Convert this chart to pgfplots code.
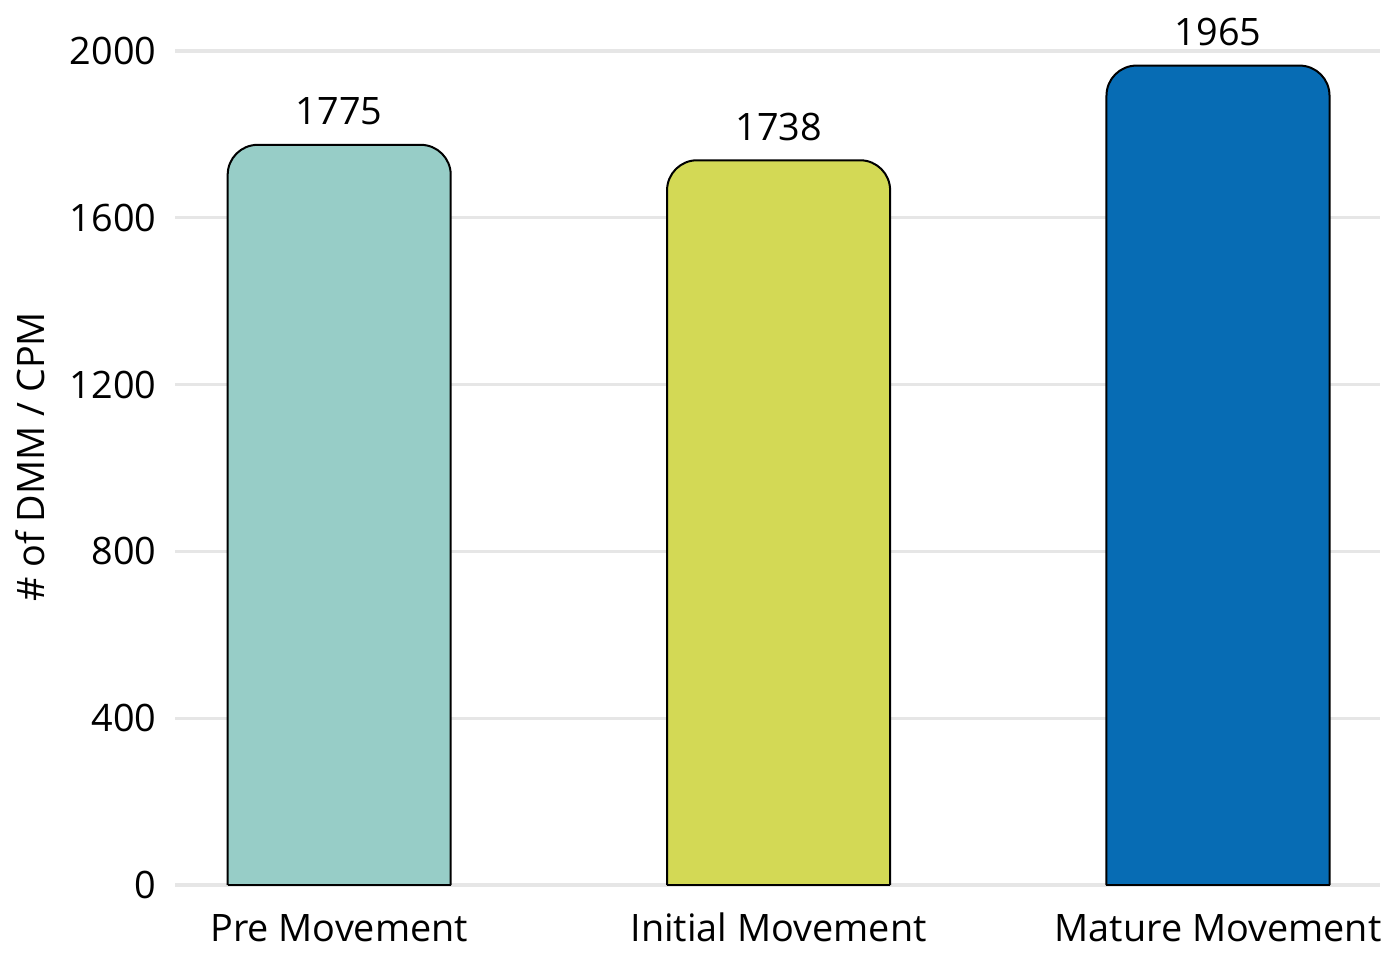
\documentclass[border=0pt]{standalone}
\usepackage{pgfplots}
\pgfplotsset{compat=1.18}
\usepackage{fontspec}
\setmainfont{Open Sans}
\newcommand\fs{\fontsize{11.34pt}{13.6pt}\selectfont}
\definecolor{cpre}{HTML}{97CDC7}
\definecolor{cinit}{HTML}{D3D955}
\definecolor{cmat}{HTML}{076CB4}
\definecolor{gridgray}{HTML}{E6E6E6}
\begin{document}
\begin{tikzpicture}
\begin{axis}[
    scale only axis,
    width=361.5pt, height=262.71pt,
    xmin=-0.3737, xmax=2.3687,
    ymin=0, ymax=2100,
    clip=false,
    xtick={0,1,2},
    xticklabels={Pre Movement, Initial Movement, Mature Movement},
    ytick={0,400,800,1200,1600,2000},
    scaled y ticks=false,
    /pgf/number format/1000 sep={},
    /pgf/number format/assume math mode=true,
    axis line style={draw=none},
    tick style={draw=none},
    major tick length=0pt,
    ymajorgrids,
    major grid style={draw=gridgray, line width=1pt},
    every tick label/.append style={font=\fs},
    yticklabel style={anchor=east, inner sep=0pt, xshift=-5.4pt},
    xticklabel style={anchor=base, inner sep=0pt, yshift=-17pt},
    ylabel={\# of DMM / CPM},
    every axis y label/.style={at={(axis description cs:-0.1079,0.4888)},
        rotate=90, anchor=base, inner sep=0pt, font=\fs},
]
% bars: open paths so only the two top corners are rounded
\addplot[fill=cpre, draw=black, line width=0.6pt, rounded corners=9pt]
    coordinates {(-0.2538,0) (-0.2538,1775) (0.2538,1775) (0.2538,0)};
\addplot[fill=cinit, draw=black, line width=0.6pt, rounded corners=9pt]
    coordinates {(0.7462,0) (0.7462,1738) (1.2538,1738) (1.2538,0)};
\addplot[fill=cmat, draw=black, line width=0.6pt, rounded corners=9pt]
    coordinates {(1.7462,0) (1.7462,1965) (2.2538,1965) (2.2538,0)};
% bottom edges of the bars
\addplot[black, line width=0.6pt] coordinates {(-0.2538,0) (0.2538,0)};
\addplot[black, line width=0.6pt] coordinates {(0.7462,0) (1.2538,0)};
\addplot[black, line width=0.6pt] coordinates {(1.7462,0) (2.2538,0)};
% value labels
\addplot[draw=none, mark=none, point meta=explicit symbolic,
    nodes near coords,
    every node near coord/.append style={anchor=base, inner sep=0pt, yshift=6pt, font=\fs, text=black}]
    coordinates {(0,1775) [1775] (1,1738) [1738] (2,1965) [1965]};
\end{axis}
\pgfresetboundingbox
\path[use as bounding box] (-52.5pt,-24pt) rectangle (367.5pt,265.5pt);
\end{tikzpicture}
\end{document}
